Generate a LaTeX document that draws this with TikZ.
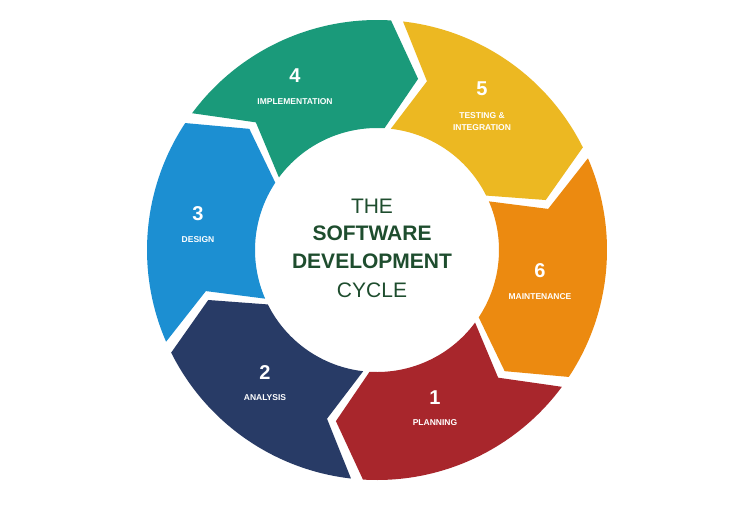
\documentclass[tikz,border=0pt]{standalone}
\usepackage{fontspec}
\setmainfont{Liberation Sans}
\definecolor{cteal}{RGB}{26,154,122}
\definecolor{cyel}{RGB}{236,184,34}
\definecolor{corg}{RGB}{236,138,16}
\definecolor{cred}{RGB}{168,38,44}
\definecolor{cnavy}{RGB}{40,59,102}
\definecolor{cblue}{RGB}{28,143,210}
\definecolor{cgreen}{RGB}{30,77,46}
\tikzset{
 num/.style={text=white,font=\bfseries\fontsize{20}{22}\selectfont},
 lab/.style={text=white,font=\bfseries\fontsize{8.5}{10}\selectfont,align=center},
 ctr/.style={text=cgreen,font=\fontsize{21}{23}\selectfont},
}
\newcommand{\seg}[2]{%
 \pgfmathsetmacro{\Aa}{#1-1.5}\pgfmathsetmacro{\Bb}{#1-60+1.5}%
 \pgfmathsetmacro{\Tt}{\Bb-10}\pgfmathsetmacro{\Nn}{\Aa-10}%
 \fill[#2,shift={(377pt,-250pt)}] (\Aa:230pt) arc[start angle=\Aa,end angle=\Bb,radius=230pt]
 -- (\Tt:176pt) -- (\Bb:122pt) arc[start angle=\Bb,end angle=\Aa,radius=122pt] -- (\Nn:176pt) -- cycle;}
\begin{document}
\begin{tikzpicture}[x=1pt,y=1pt]
\fill[white] (0,0) rectangle (754,-504);
\useasboundingbox (0,0) rectangle (754,-504);
\seg{145}{cteal}
\seg{85}{cyel}
\seg{25}{corg}
\seg{-35}{cred}
\seg{-95}{cnavy}
\seg{-155}{cblue}
\node[num] (n4) at (295,-76) {4};
\node[lab] (l4) at (295,-102) {IMPLEMENTATION};
\node[num] (n5) at (482,-89) {5};
\node[lab] (l5) at (482,-122) {TESTING \&\\[2pt]INTEGRATION};
\node[num] (n6) at (540,-271) {6};
\node[lab] (l6) at (540,-297) {MAINTENANCE};
\node[num] (n1) at (435,-398) {1};
\node[lab] (l1) at (435,-423) {PLANNING};
\node[num] (n2) at (265,-373) {2};
\node[lab] (l2) at (265,-398) {ANALYSIS};
\node[num] (n3) at (198,-214) {3};
\node[lab] (l3) at (198,-240) {DESIGN};
\node[ctr] (c1) at (372,-206) {THE};
\node[ctr,font=\bfseries\fontsize{21}{23}\selectfont] (c2) at (372,-233) {SOFTWARE};
\node[ctr,font=\bfseries\fontsize{21}{23}\selectfont] (c3) at (372,-261) {DEVELOPMENT};
\node[ctr] (c4) at (372,-290) {CYCLE};
\end{tikzpicture}
\end{document}
